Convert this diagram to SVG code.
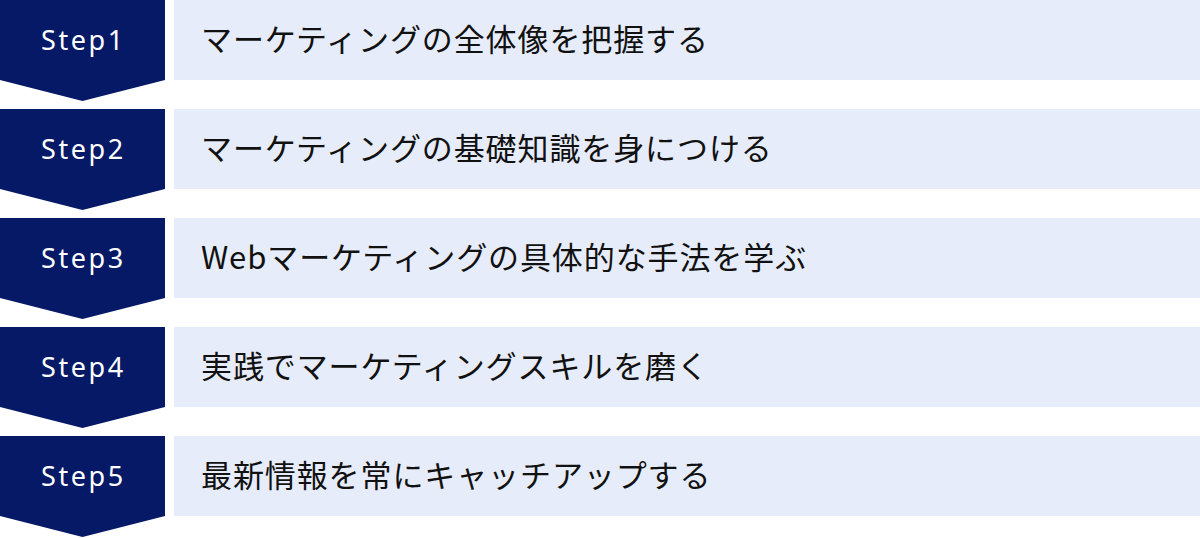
<svg xmlns="http://www.w3.org/2000/svg" width="1200" height="538" viewBox="0 0 1200 538">
<style>
.arrow{fill:#061966}
.box{fill:#E6ECF9}
.step{font-family:"Noto Sans","Liberation Sans",sans-serif;font-size:27px;fill:#FFFFFF;letter-spacing:2.6px}
.label{font-family:"Noto Sans CJK JP","Noto Sans",sans-serif;font-size:31px;fill:#111111;letter-spacing:0.9px}
</style>
<rect width="1200" height="538" fill="#FFFFFF"/>
<g id="step1">
<polygon class="arrow" points="0,0 165,0 165,80 82.5,101 0,80"/>
<rect class="box" x="174" y="0" width="1026" height="80"/>
<text class="step" x="41" y="50">Step1</text>
<text class="label" x="201" y="50.5">マーケティングの全体像を把握する</text>
</g>
<g id="step2">
<polygon class="arrow" points="0,109 165,109 165,189 82.5,210 0,189"/>
<rect class="box" x="174" y="109" width="1026" height="80"/>
<text class="step" x="41" y="159">Step2</text>
<text class="label" x="201" y="159.5">マーケティングの基礎知識を身につける</text>
</g>
<g id="step3">
<polygon class="arrow" points="0,218 165,218 165,298 82.5,319 0,298"/>
<rect class="box" x="174" y="218" width="1026" height="80"/>
<text class="step" x="41" y="268">Step3</text>
<text class="label" x="201" y="268.5">Webマーケティングの具体的な手法を学ぶ</text>
</g>
<g id="step4">
<polygon class="arrow" points="0,327 165,327 165,407 82.5,428 0,407"/>
<rect class="box" x="174" y="327" width="1026" height="80"/>
<text class="step" x="41" y="377">Step4</text>
<text class="label" x="201" y="377.5">実践でマーケティングスキルを磨く</text>
</g>
<g id="step5">
<polygon class="arrow" points="0,436 165,436 165,516 82.5,537 0,516"/>
<rect class="box" x="174" y="436" width="1026" height="80"/>
<text class="step" x="41" y="486">Step5</text>
<text class="label" x="201" y="486.5">最新情報を常にキャッチアップする</text>
</g>
<g id="connectors"></g>
</svg>
